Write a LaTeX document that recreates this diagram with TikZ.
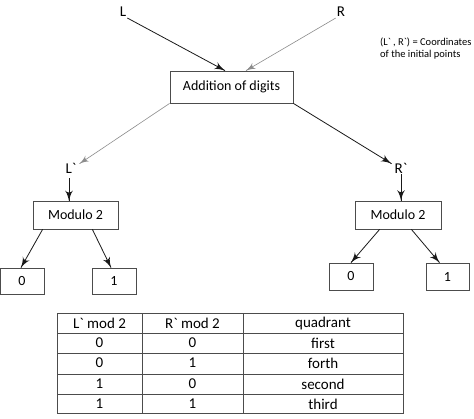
\documentclass[tikz,border=0pt]{standalone}
\usepackage{fontspec}
\setmainfont{Carlito}
\usetikzlibrary{arrows}
\usetikzlibrary{decorations.markings}
\tikzset{tip/.style = {decoration={markings,
                                   mark=at position 1 with {\arrow[scale=2]{latex'}}},
                       postaction={decorate}}}
\tikzset{box/.style = {draw=black!70, line width=0.8pt, rectangle, inner sep=0,
                       font=\fontsize{14}{16}\selectfont}}
\tikzset{lbl/.style = {inner sep=1pt, font=\fontsize{15}{17}\selectfont}}
\tikzset{dark/.style = {draw=black!90, line width=0.8pt},
         pale/.style = {draw=black!45, line width=0.6pt}}
\newcommand{\gr}{\textasciigrave}

\begin{document}
\begin{tikzpicture}[x=1pt, y=-1pt]
    \useasboundingbox [fill=white] (0,0) rectangle (474,418);
    % inputs and the adder
    \node [lbl] (L) at (123,12) {L};
    \node [lbl] (R) at (341,12) {R};
    \node [box, minimum width=123, minimum height=32] (add) at (231.5,87) {Addition of digits};
    \node [align=left, inner sep=0, font=\fontsize{10.5}{12}\selectfont, anchor=north west]
      (note) at (380,38) {(L\gr{} , R\gr) = Coordinates\\of the initial points};
    \draw [dark, tip] (L.south east) -- ([xshift=-6.5]add.north);
    \draw [pale, tip] (R.south west) -- ([xshift=14.5]add.north);
    % the two coordinates
    \node [lbl] (Lp) at (71,168) {L\gr};
    \node [lbl] (Rp) at (401,168) {R\gr};
    \draw [pale, tip] (add.south west) -- ([xshift=2,yshift=-2]Lp.north east);
    \draw [dark, tip] (add.south east) -- ([xshift=-2,yshift=-2]Rp.north west);
    \node [box, minimum width=85, minimum height=28] (modL) at (75.5,215) {Modulo 2};
    \node [box, minimum width=86, minimum height=28] (modR) at (398,215) {Modulo 2};
    \draw [dark, tip] (69,178) -- (69,201);
    \draw [dark, tip] (Rp.south) -- (Rp.south |- modR.north);
    % remainders
    \node [box, minimum width=44, minimum height=26] (l0) at (22,281) {0};
    \node [box, minimum width=44, minimum height=26] (l1) at (114,281) {1};
    \node [box, minimum width=44, minimum height=27] (r0) at (351,276.5) {0};
    \node [box, minimum width=43, minimum height=27] (r1) at (447.5,276.5) {1};
    \draw [dark, tip] ([xshift=10]modL.south west) -- ([xshift=-1]l0.north);
    \draw [dark, tip] ([xshift=-26]modL.south east) -- ([xshift=-3]l1.north);
    \draw [dark, tip] ([xshift=25]modR.south west) -- (r0.north);
    \draw [dark, tip] ([xshift=-30]modR.south east) -- ([xshift=-8]r1.north);
    % table
    \draw [draw=black!70, line width=0.8pt] (57,313) rectangle (403,413);
    \foreach \y in {333, 353, 374, 394}
      \draw [draw=black!70, line width=0.8pt] (57,\y) -- (403,\y);
    \foreach \x in {142, 243}
      \draw [draw=black!70, line width=0.8pt] (\x,313) -- (\x,413);
    \begin{scope}[every node/.style={inner sep=0, font=\fontsize{15}{16}\selectfont}]
      \node (h1) at (99.5,323) {L\gr{} mod 2};
      \node (h2) at (192.5,323) {R\gr{} mod 2};
      \node (h3) at (323,323) {quadrant};
      \foreach \y/\a/\b/\q in {343/0/0/first, 363/0/1/forth, 384/1/0/second, 404/1/1/third} {
        \node (a\y) at (99.5,\y) {\a};
        \node (b\y) at (192.5,\y) {\b};
        \node (q\y) at (323,\y) {\q};
      }
    \end{scope}
\end{tikzpicture}
\end{document}
